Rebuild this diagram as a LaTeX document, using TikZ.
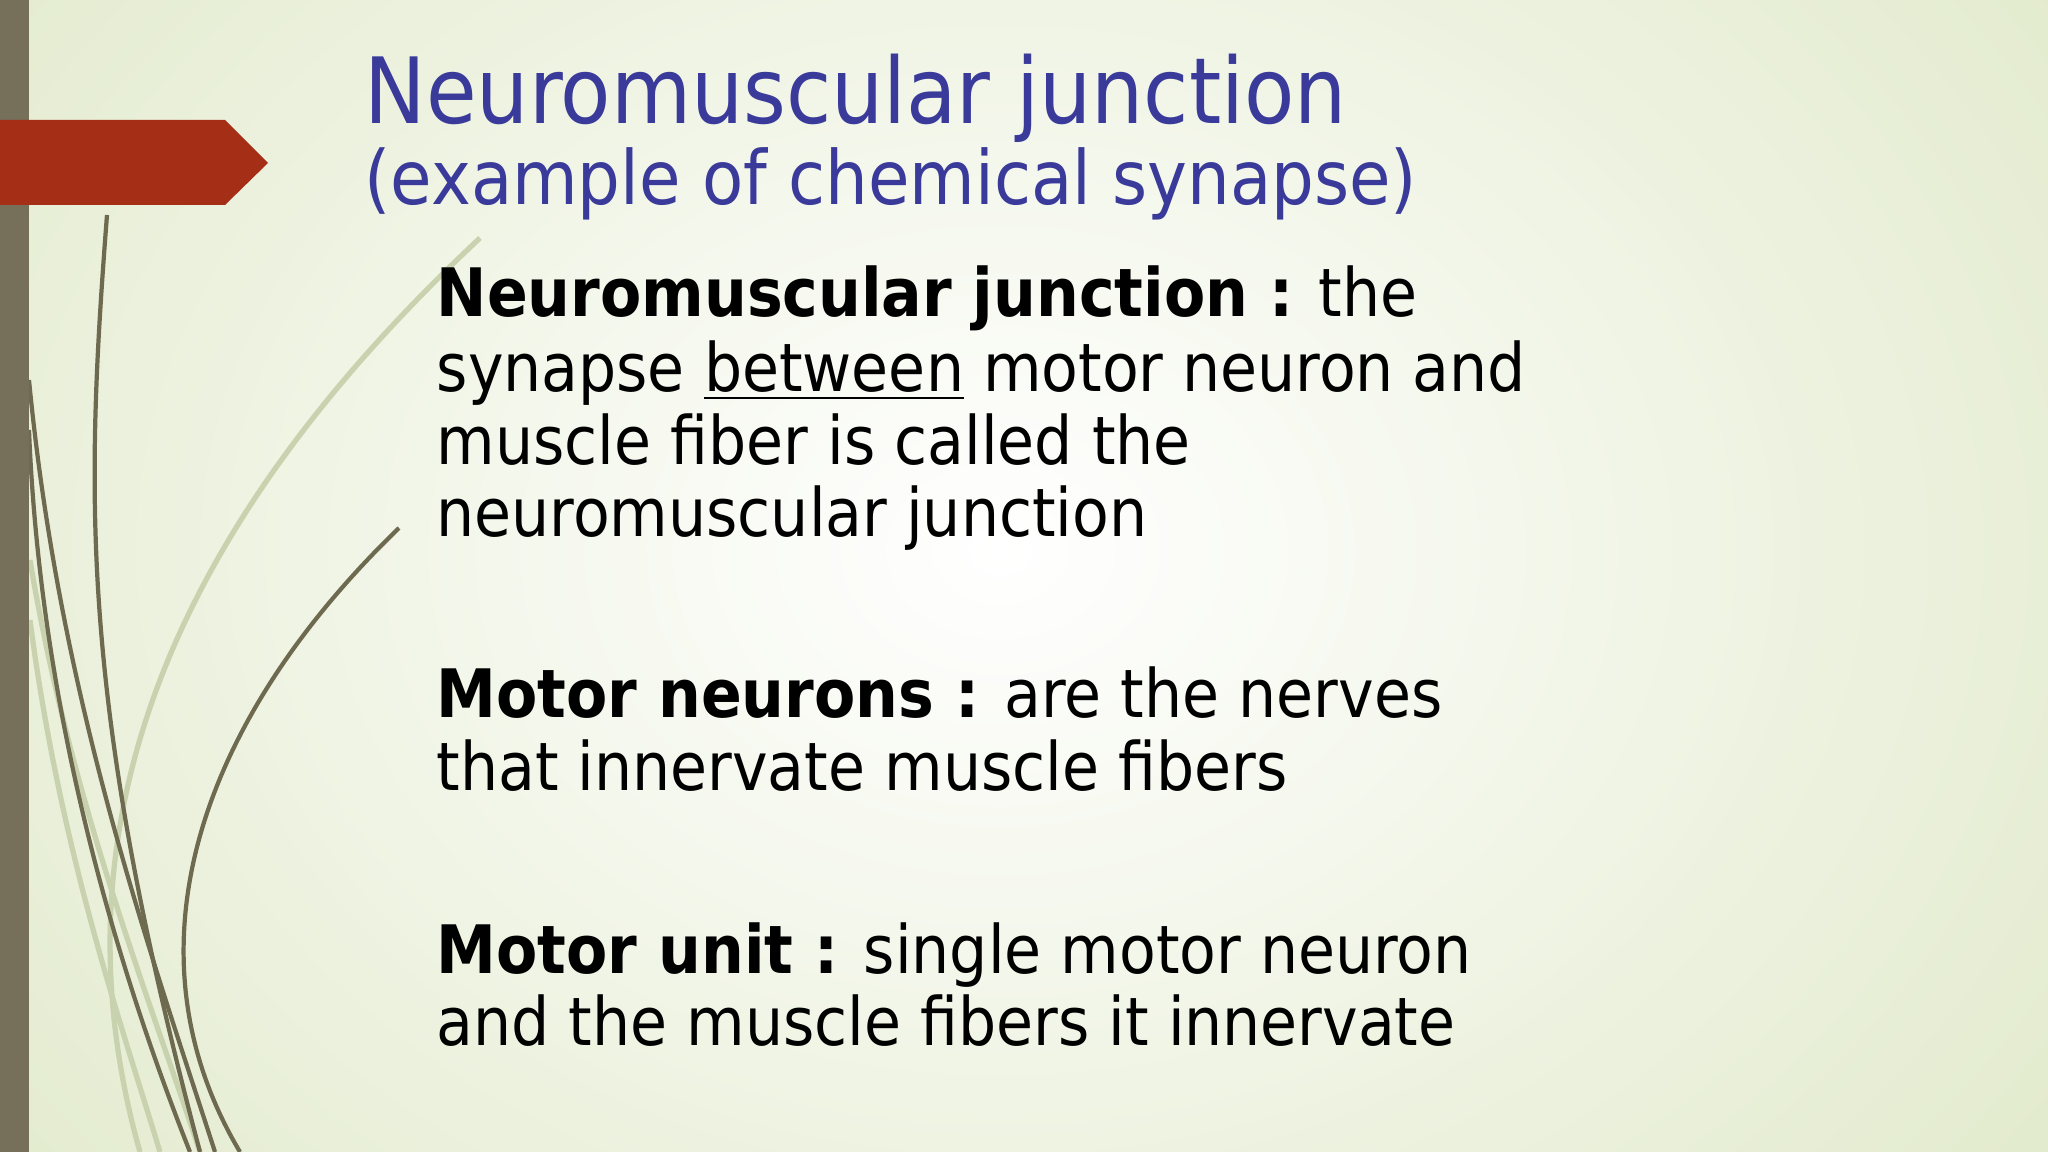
\documentclass[tikz,border=0pt]{standalone}
\usepackage{fontspec}
\setmainfont{DejaVu Sans Condensed}
\usetikzlibrary{shapes.geometric}
\definecolor{bgout}{HTML}{DCE6C2}
\definecolor{barc}{HTML}{76705A}
\definecolor{redc}{HTML}{A52F16}
\definecolor{titlec}{HTML}{3A3A9A}
\definecolor{linec}{HTML}{6E6A50}
\definecolor{lightl}{HTML}{C9D2AE}
\tikzset{body/.style={anchor=base west,inner sep=0pt,font=\fontsize{19}{23}\selectfont,text=black},
 ttl/.style={anchor=base west,inner sep=0pt,text=titlec}}
\begin{document}
\begin{tikzpicture}[x=0.01cm,y=-0.01cm]
\useasboundingbox (0,0) rectangle (2048,1152);
\shade[inner color=white,outer color=bgout] (-600,-700) rectangle (2600,1800);
% light curves
\draw[lightl,line width=1.5pt] (480,238) .. controls (200,500) and (40,800) .. (140,1152);
\draw[lightl,line width=1.5pt] (30,560) .. controls (70,800) and (150,1000) .. (200,1152);
\draw[lightl,line width=1.5pt] (30,620) .. controls (60,850) and (120,1020) .. (160,1152);
% dark curves
\draw[linec,line width=1.2pt] (107,215) .. controls (85,500) and (80,700) .. (200,1152);
\draw[linec,line width=1.2pt] (29,380) .. controls (60,700) and (150,950) .. (215,1152);
\draw[linec,line width=1.2pt] (399,528) .. controls (200,720) and (120,950) .. (240,1152);
\draw[linec,line width=1.2pt] (29,430) .. controls (40,700) and (110,950) .. (190,1152);
% left bar
\fill[barc] (0,0) rectangle (29,1152);
% red arrow
\fill[redc] (0,120) -- (225,120) -- (268,163) -- (225,205) -- (0,205) -- cycle;
% title
\node[ttl,font=\fontsize{26}{30}\selectfont] (t1) at (364,124) {Neuromuscular junction};
\node[ttl,font=\fontsize{21.3}{26}\selectfont] (t2) at (364,205) {(example of chemical synapse)};
% body
\node[body] (a1) at (436,317) {\textbf{Neuromuscular junction :} the};
\node[body] (a2) at (436,392) {synapse \underline{between} motor neuron and};
\node[body] (a3) at (436,465) {muscle fiber is called the};
\node[body] (a4) at (436,537) {neuromuscular junction};
\node[body] (b1) at (436,717) {\textbf{Motor neurons :} are the nerves};
\node[body] (b2) at (436,790) {that innervate muscle fibers};
\node[body] (c1) at (436,973) {\textbf{Motor unit :} single motor neuron};
\node[body] (c2) at (436,1045) {and the muscle fibers it innervate};
\end{tikzpicture}
\end{document}
